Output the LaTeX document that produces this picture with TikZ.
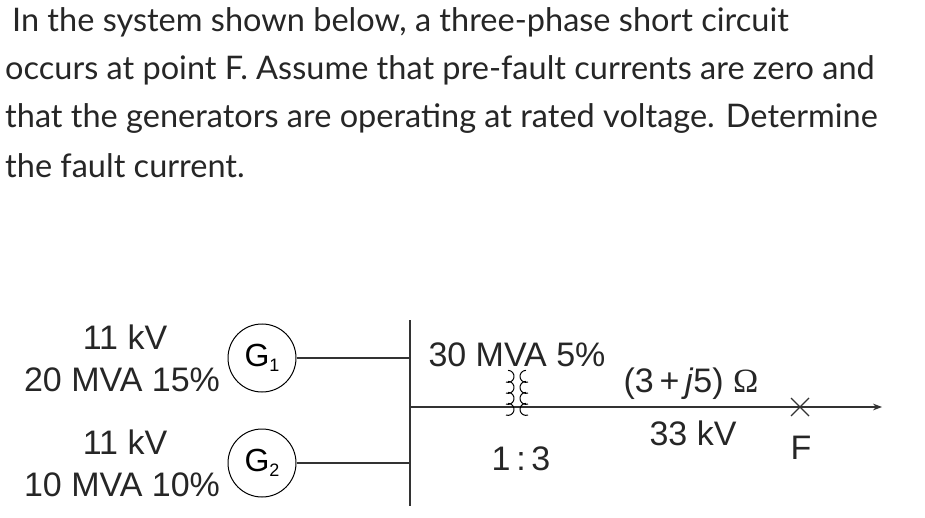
\documentclass[tikz,border=0pt]{standalone}
\usepackage{fontspec}
\setmainfont{Lato}
\newfontfamily\arialf{Liberation Sans}
\newfontfamily\serf{Liberation Serif}
\usetikzlibrary{arrows.meta}
\begin{document}
\begin{tikzpicture}[x=1pt,y=-1pt,
  qtext/.style={anchor=west,inner sep=0,font=\fontsize{32.5}{34}\selectfont,text=black!85},
  lbl/.style={inner sep=0,font=\arialf\fontsize{34}{36}\selectfont,text=black!85},
  gen/.style={circle,draw,line width=1pt,minimum size=68pt,inner sep=0,font=\arialf\fontsize{32}{34}\selectfont},
  wire/.style={line width=1.2pt,black!80}]
\useasboundingbox (0,0) rectangle (925,518);
\node[qtext] (l1) at (12,22) {In the system shown below, a three-phase short circuit};
\node[qtext] (l2) at (5,70) {occurs at point F. Assume that pre-fault currents are zero and};
\node[qtext] (l3) at (5,118) {that the generators are operating at rated voltage. Determine};
\node[qtext] (l4) at (5,166) {the fault current.};
\node[gen] (g1) at (262,358) {G\raisebox{-5pt}{\fontsize{18}{19}\selectfont 1}};
\node[gen] (g2) at (262,463) {G\raisebox{-5pt}{\fontsize{18}{19}\selectfont 2}};
\coordinate (bt) at (410,320);
\coordinate (bb) at (410,506);
\draw[wire] (bt) -- (bb);
\coordinate (b1) at (410,358);
\coordinate (b2) at (410,463);
\coordinate (b3) at (410,407);
\coordinate (end) at (882,407);
\coordinate (f) at (800,407);
\draw[wire] (g1) -- (b1);
\draw[wire] (g2) -- (b2);
\draw[wire,-{Stealth[length=9pt]}] (b3) -- (end);
\draw[wire] (f)++(-9,-9) -- ++(18,18) (f)++(9,-9) -- ++(-18,18);
\foreach \yy in {382,393,404,415} {
  \draw[line width=1pt] (506,\yy) arc[start angle=110,end angle=-90,radius=6];
  \draw[line width=1pt] (528,\yy) arc[start angle=70,end angle=270,radius=6];
}
\node[lbl] (a1) at (125,337) {11 kV};
\node[lbl] (a2) at (122,380) {20 MVA 15\%};
\node[lbl] (a3) at (125,442) {11 kV};
\node[lbl] (a4) at (122,485) {10 MVA 10\%};
\node[lbl] (t1) at (517,355) {30 MVA 5\%};
\node[lbl] (t2) at (521,459) {1\,:\,3};
\node[lbl] (z) at (691,384) {(3\,+\,\textit{j}5) {\serf Ω}};
\node[lbl] (kv) at (693,433) {33 kV};
\node[lbl] (fl) at (801,448) {F};
\end{tikzpicture}
\end{document}
